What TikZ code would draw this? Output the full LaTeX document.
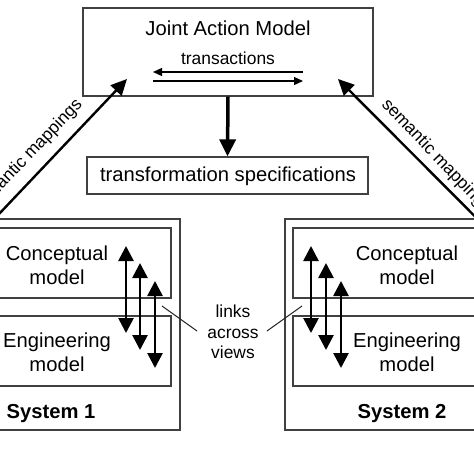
\documentclass[tikz,border=0pt]{standalone}
\usepackage{fontspec}
\setmainfont{Liberation Sans}
\usetikzlibrary{arrows.meta}
\begin{document}
\begin{tikzpicture}[x=1pt,y=-1pt,
  box/.style={draw=black!75, line width=1.2pt, inner sep=0pt},
  big/.style={font=\fontsize{20.2}{24}\selectfont, inner sep=0pt, align=center},
  small/.style={font=\fontsize{17.4}{20.5}\selectfont, inner sep=0pt, align=center},
  thin/.style={line width=1.3pt, -{Triangle[length=9pt,width=8pt]}},
  thick/.style={line width=3.5pt, -{Triangle[length=17pt,width=16pt]}},
  mapar/.style={line width=2.4pt, -{Triangle[length=16pt,width=15pt]}},
  dbl/.style={line width=2.7pt, {Triangle[length=15pt,width=15pt]}-{Triangle[length=15pt,width=15pt]}},
  lead/.style={line width=1pt, black!85}]
\useasboundingbox (0,0) rectangle (474,474);
\clip (0,0) rectangle (474,474);
\fill[white] (0,0) rectangle (474,474);

% Joint Action Model
\node[box, minimum width=290pt, minimum height=88pt] (jam) at (228,52) {};
\node[big] (jamt) at (228,28) {Joint Action Model};
\node[small] (trt) at (228,58) {transactions};
\coordinate (tl1) at (303,72); \coordinate (tl2) at (153,72);
\coordinate (tr1) at (153,81); \coordinate (tr2) at (303,81);
\draw[thin] (tl1) -- (tl2);
\draw[thin] (tr1) -- (tr2);

% transformation specifications
\node[box, minimum width=281pt, minimum height=37pt] (ts) at (227.5,175.5) {};
\node[big] (tst) at (228,176) {transformation specifications};
\draw[thick] (jam.south) -- (ts.north);

% System 1
\node[box, minimum width=220pt, minimum height=211pt] (s1) at (70,324.5) {};
\node[box, minimum width=211pt, minimum height=70pt] (c1) at (65.5,263) {};
\node[box, minimum width=211pt, minimum height=70pt] (e1) at (65.5,351) {};
\node[big] (c1t) at (57,265) {Conceptual\\model};
\node[big] (e1t) at (57,352) {Engineering\\model};
\node[big, font=\fontsize{20.2}{24}\selectfont\bfseries] (s1t) at (51,414) {System 1};
\coordinate (a1t) at (126,246); \coordinate (a1b) at (126,333);
\coordinate (a2t) at (140,263); \coordinate (a2b) at (140,350);
\coordinate (a3t) at (155,281); \coordinate (a3b) at (155,368);
\draw[dbl] (a1t) -- (a1b);
\draw[dbl] (a2t) -- (a2b);
\draw[dbl] (a3t) -- (a3b);

% System 2
\node[box, minimum width=220pt, minimum height=211pt] (s2) at (395,324.5) {};
\node[box, minimum width=211pt, minimum height=70pt] (c2) at (398.5,263) {};
\node[box, minimum width=211pt, minimum height=70pt] (e2) at (398.5,351) {};
\node[big] (c2t) at (407,265) {Conceptual\\model};
\node[big] (e2t) at (407,352) {Engineering\\model};
\node[big, font=\fontsize{20.2}{24}\selectfont\bfseries] (s2t) at (402,414) {System 2};
\coordinate (b1t) at (311,246); \coordinate (b1b) at (311,333);
\coordinate (b2t) at (326,263); \coordinate (b2b) at (326,350);
\coordinate (b3t) at (341,281); \coordinate (b3b) at (341,368);
\draw[dbl] (b1t) -- (b1b);
\draw[dbl] (b2t) -- (b2b);
\draw[dbl] (b3t) -- (b3b);

% links across views
\node[small] (lk) at (233,332) {links\\across\\views};
\coordinate (l1) at (162,306); \coordinate (l1e) at (197,331);
\coordinate (r1) at (302,306); \coordinate (r1e) at (267,331);
\draw[lead] (l1) -- (l1e);
\draw[lead] (r1) -- (r1e);

% semantic mappings
\coordinate (sm1) at (-10,223.5);
\coordinate (jl) at (127,79);
\coordinate (sm2) at (484,225.5);
\coordinate (jr) at (338,79);
\draw[mapar] (sm1) -- (jl);
\draw[mapar] (sm2) -- (jr);
\node[small, rotate=46.4, anchor=south] (sml) at (34,162) {semantic mappings};
\node[small, rotate=-46.4, anchor=south] (smr) at (430,162) {semantic mappings};
\end{tikzpicture}
\end{document}
